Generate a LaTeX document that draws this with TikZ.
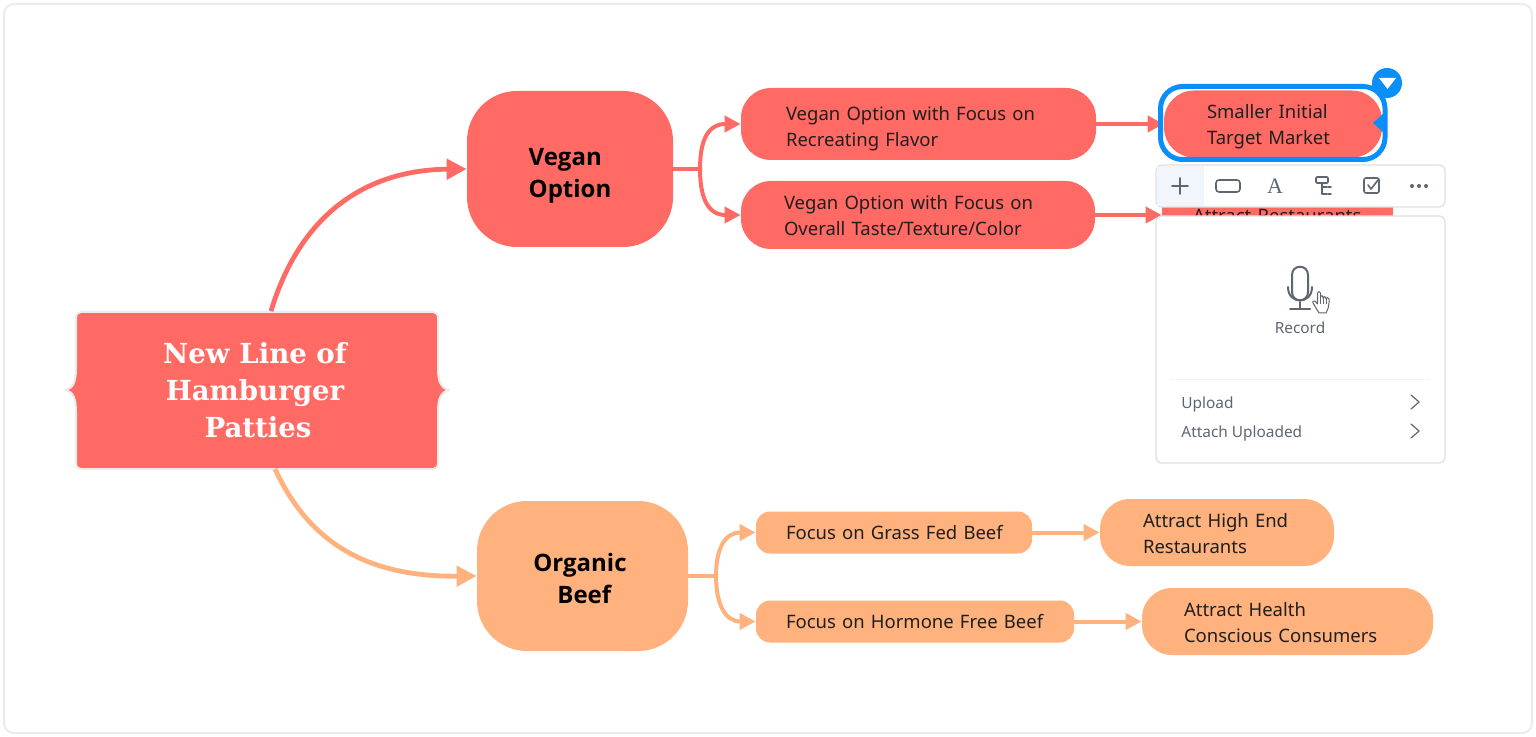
\documentclass[tikz,border=0pt]{standalone}
\usepackage{fontspec}
\setmainfont{Noto Sans}
\newfontfamily\slabfont{DejaVu Serif}
\newfontfamily\headfont{Open Sans}
\newfontfamily\iconfont{Liberation Serif}
\usetikzlibrary{arrows.meta}
\definecolor{redc}{HTML}{FF6A64}
\definecolor{orc}{HTML}{FFB27E}
\definecolor{bluec}{HTML}{0A8FFA}
\definecolor{inkc}{HTML}{1F1F1F}
\definecolor{uic}{HTML}{5F6672}
\definecolor{uiline}{HTML}{DEDFE1}
\definecolor{cellc}{HTML}{F0F6FC}
\tikzset{
  x=0.5pt,y=-0.5pt,
  mainbox/.style n args={4}{draw=none,fill=#1,rounded corners=#2,minimum width=#3,minimum height=#4,inner sep=0pt,align=left,
    font=\headfont\bfseries\fontsize{12}{16}\selectfont,text=black},
  pill/.style n args={6}{draw=none,fill=#1,rounded corners=#2,minimum width=#3,minimum height=#4,inner ysep=0pt,inner xsep=0pt,
    text width=#3,font=\fontsize{9.25}{13}\selectfont,text=inkc,
    execute at begin node={\parindent=0pt\leftskip=#5\rightskip=0pt plus 1fil\relax\rule{0pt}{\dimexpr7pt+2\dimexpr#6\relax\relax}}},
  bigarrow/.style={line width=2.4pt,-{Triangle[length=10pt,width=10pt]}},
  arrowline/.style={line width=2pt,-{Triangle[length=8pt,width=8pt]}},
  plainline/.style={line width=2pt},
  uilabel/.style={inner sep=0pt,text=uic,font=\fontsize{7.7}{10}\selectfont},
  uiicon/.style={draw=uic,line width=0.8pt,line cap=round,line join=round},
  panelbox/.style={draw=uiline,line width=0.6pt,fill=white,rounded corners=3pt},
}
\begin{document}
\begin{tikzpicture}
\useasboundingbox (0,0) rectangle (1536,737);
\fill[white] (0,0) rectangle (1536,737);
\draw[draw=black!8,line width=1pt,rounded corners=5pt,fill=white] (4,4) rectangle (1532,733);

% root
\path[fill=redc,draw=black!8,line width=1pt,line join=round]
  (81,312) -- (433,312) .. controls (436,312) and (438,314) .. (438,318)
  -- (438,368) .. controls (438,382) and (441,388) .. (449,390)
  .. controls (441,392) and (438,398) .. (438,412)
  -- (438,463) .. controls (438,467) and (436,469) .. (433,469)
  -- (81,469) .. controls (78,469) and (76,467) .. (76,463)
  -- (76,412) .. controls (76,398) and (73,392) .. (66,390)
  .. controls (73,388) and (76,382) .. (76,368)
  -- (76,318) .. controls (76,314) and (78,312) .. (81,312) -- cycle;
\node[minimum width=181pt,minimum height=78.5pt,inner sep=0pt,align=center,text=white,
  font=\slabfont\bfseries\fontsize{13.8}{18.5}\selectfont] (root) at (255,390) {New Line of\\Hamburger\\\hspace*{3pt}Patties};

% main nodes
\node[mainbox={redc}{25pt}{103pt}{78pt}] (vegan) at (570,169) {\rule{0pt}{15.8pt}Vegan\\Option};
\node[mainbox={orc}{25pt}{105.5pt}{75pt}] (organic) at (582.5,576) {\rule{0pt}{11.8pt}Organic\hspace*{2.5pt}\\\hspace*{12pt}Beef};

\node[pill={redc}{15pt}{177.5pt}{36pt}{22.5pt}{2.5pt}] (v1) at (918.5,124) {Vegan Option with Focus on\\Recreating Flavor};
\node[pill={redc}{15pt}{177pt}{34pt}{21.5pt}{.5pt}] (v2) at (918,215) {Vegan Option with Focus on\\Overall Taste/Texture/Color};
\node[pill={redc}{15pt}{109pt}{33.5pt}{21.5pt}{1.5pt}] (v1a) at (1273,124) {Smaller Initial\\Target Market};
\node[pill={redc}{15pt}{115.5pt}{34pt}{15.5pt}{.5pt}] (v2a) at (1277.5,215) {Attract Restaurants};
\node[pill={orc}{7pt}{138pt}{21pt}{15pt}{0pt}] (o1) at (894,532.5) {Focus on Grass Fed Beef};
\node[pill={orc}{7pt}{159pt}{21pt}{15pt}{0pt}] (o2) at (915,621.5) {Focus on Hormone Free Beef};
\node[pill={orc}{15pt}{117pt}{33.5pt}{21.5pt}{.5pt}] (o1a) at (1217,532.5) {Attract High End\\Restaurants};
\node[pill={orc}{15pt}{145.5pt}{33.5pt}{21pt}{.5pt}] (o2a) at (1287.5,621.5) {Attract Health\\Conscious Consumers};

% connectors
\coordinate (vbr) at (700,169);
\coordinate (obr) at (716,576);
\draw[bigarrow,redc] ([xshift=8pt]root.north) .. controls (300,215) and (365,170) .. (vegan.west);
\draw[bigarrow,orc] ([xshift=10pt]root.south) .. controls (310,545) and (370,577) .. (organic.west);
\draw[plainline,redc] (vegan.east) -- (vbr);
\draw[arrowline,redc] (vbr) .. controls (700,140) and (708,124) .. (v1.west);
\draw[arrowline,redc] (vbr) .. controls (700,198) and (708,215) .. (v2.west);
\draw[plainline,orc] (organic.east) -- (obr);
\draw[arrowline,orc] (obr) .. controls (716,550) and (724,532.5) .. (o1.west);
\draw[arrowline,orc] (obr) .. controls (716,602) and (724,621.5) .. (o2.west);
\draw[arrowline,redc] (v1.east) -- (v1a.west);
\draw[arrowline,redc] (v2.east) -- (v2a.west);
\draw[arrowline,orc] (o1.east) -- (o1a.west);
\draw[arrowline,orc] (o2.east) -- (o2a.west);

% selection frame
\draw[bluec,line width=2.5pt,rounded corners=11pt] (1160.5,86.5) rectangle (1385,159.5);
\fill[bluec] (1387,83) circle[radius=15];
\fill[white] (1379,78) -- (1396,78) -- (1387.5,89) -- cycle;
\fill[bluec] (1373,123) -- (1385,112) -- (1385,134) -- cycle;

% toolbar
\draw[panelbox] (1156,165) rectangle (1445,207);
\fill[cellc] (1157,166) rectangle (1204,206);
\draw[uiicon] (1172,186) -- (1188,186) (1180,178) -- (1180,194);
\draw[uiicon,rounded corners=1.5pt] (1216,180) rectangle (1240,192);
\node[inner sep=0pt,text=uic,font=\iconfont\fontsize{11}{11}\selectfont] (fonticon) at (1275,186) {A};
\draw[uiicon,rounded corners=0.5pt] (1316,177) rectangle (1328,183);
\draw[uiicon] (1322,183) -- (1322,194) -- (1327,194) (1322,187) -- (1327,187);
\draw[uiicon] (1328,187) -- (1331,187) (1328,194) -- (1331,194);
\draw[uiicon,rounded corners=1pt] (1364,178) rectangle (1379,193);
\draw[uiicon] (1368,185) -- (1371,189) -- (1378,180);
\fill[uic] (1412,186) circle[radius=2] (1419,186) circle[radius=2] (1426,186) circle[radius=2];

% panel
\draw[panelbox] (1156,216) rectangle (1445,463);
\draw[uiicon,line width=1pt] (1292,275) .. controls (1292,264) and (1308,264) .. (1308,275) -- (1308,292) .. controls (1308,303) and (1292,303) .. (1292,292) -- cycle;
\draw[uiicon,line width=1pt] (1288,287) .. controls (1288,305) and (1312,305) .. (1312,287);
\draw[uiicon,line width=1pt] (1300,302) -- (1300,309) (1290,309) -- (1310,309);
% hand cursor
\draw[uic,line width=0.5pt,fill=white,line join=round]
  (1319,313) -- (1326,313) .. controls (1328,309) and (1329,306) .. (1329,303)
  -- (1329,299) .. controls (1329,297) and (1326,297) .. (1326,299)
  .. controls (1326,296) and (1323,296) .. (1323,298)
  .. controls (1323,295) and (1320.5,295) .. (1320.5,297)
  -- (1320.5,293) .. controls (1320.5,291) and (1317.5,291) .. (1317.5,293)
  -- (1317.5,304) -- (1315,301) .. controls (1313,300) and (1312,302) .. (1313,303) -- cycle;
\draw[uic,line width=0.4pt] (1323,298) -- (1323,304) (1326,299) -- (1326,304) (1320.5,297) -- (1320.5,304);
\node[uilabel] (record) at (1300,328) {Record};
\draw[black!5,line width=0.5pt] (1170,380) -- (1430,380);
\node[uilabel,anchor=west] (upload) at (1181,404) {Upload};
\node[uilabel,anchor=west] (attach) at (1181,433) {Attach Uploaded};
\draw[uic,line width=0.6pt,line cap=round,line join=round] (1411,395) -- (1419,402) -- (1411,409);
\draw[uic,line width=0.6pt,line cap=round,line join=round] (1411,424) -- (1419,431) -- (1411,438);
\end{tikzpicture}
\end{document}
